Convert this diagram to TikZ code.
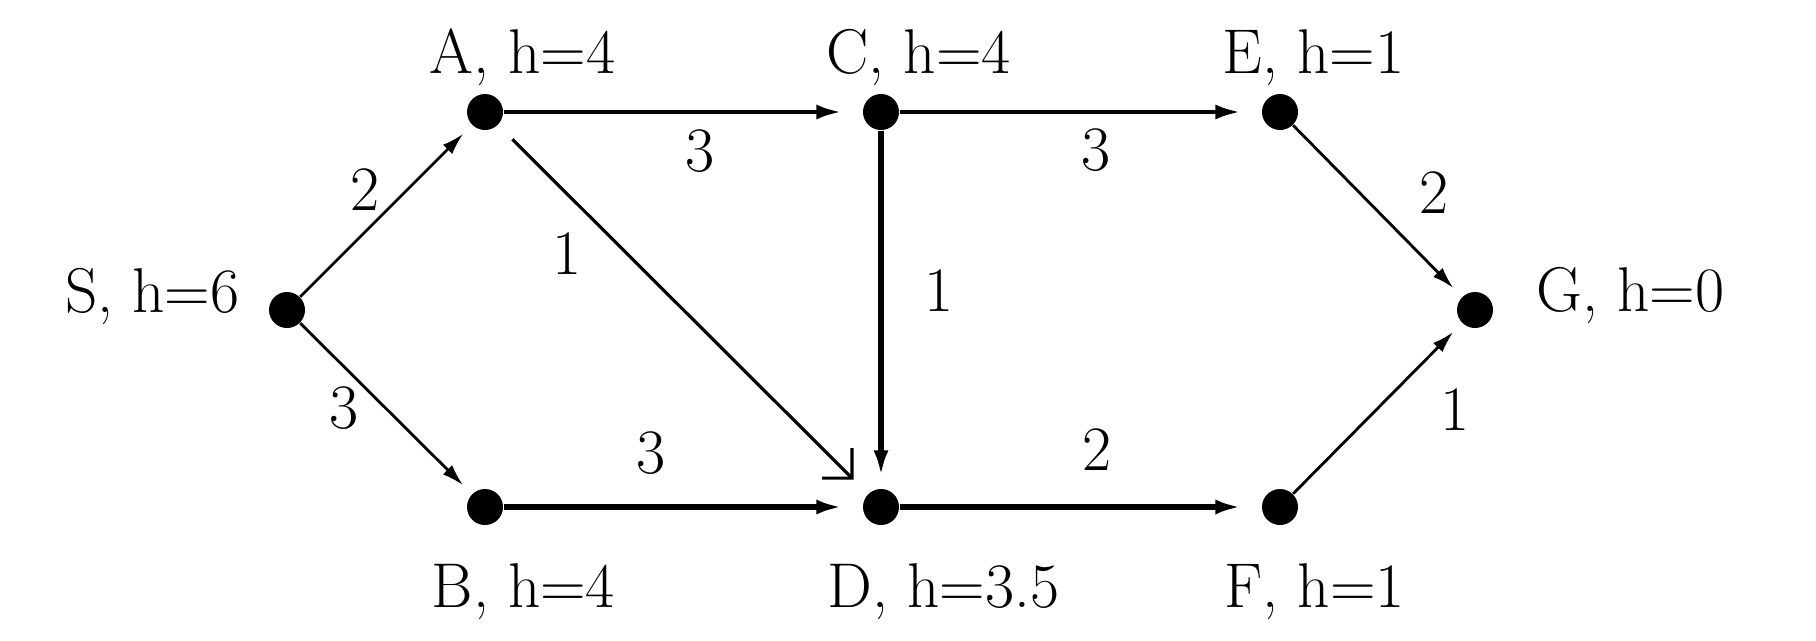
\documentclass[tikz,border=0pt]{standalone}
\usepackage{amsmath}
\usetikzlibrary{arrows.meta}

\begin{document}
\begin{tikzpicture}
    \tikzstyle{every node}=[font={\fontsize{18}{22}\selectfont}]
    \tikzstyle{dot}=[circle, fill=black, minimum size=0.36cm, inner sep=0pt]
    \tikzstyle{tag}=[inner sep=0pt]
    \tikzstyle{wt}=[inner sep=1pt]
    \tikzstyle{heavy}=[line width=1.9pt, -{Latex[length=2.6mm,width=1.5mm]}, shorten >=0.2cm]
    \tikzstyle{medium}=[line width=1.4pt, -{Latex[length=2.6mm,width=1.5mm]}, shorten >=0.2cm]
    \tikzstyle{slim}=[line width=0.8pt, -{Latex[length=2.2mm,width=1.3mm]}, shorten >=0.12cm]
    \tikzstyle{barb}=[line width=0.9pt, -{Straight Barb[angle=90:3mm]}, shorten <=0.2cm, shorten >=0.2cm]
    \useasboundingbox (0,0) rectangle (18.16,6.40);

    \node[dot] (S) at (2.87,3.30) {};
    \node[dot] (A) at (4.85,5.28) {};
    \node[dot] (B) at (4.85,1.33) {};
    \node[dot] (C) at (8.81,5.28) {};
    \node[dot] (D) at (8.81,1.33) {};
    \node[dot] (E) at (12.80,5.28) {};
    \node[dot] (F) at (12.80,1.33) {};
    \node[dot] (G) at (14.75,3.30) {};

    \node[tag, anchor=base east] (Stag) at ([shift={(-0.47,-0.02)}]S) {S, h=6};
    \node[tag, anchor=base west] (Atag) at ([shift={(-0.56,0.39)}]A) {A, h=4};
    \node[tag, anchor=base west] (Btag) at ([shift={(-0.54,-1.00)}]B) {B, h=4};
    \node[tag, anchor=base west] (Ctag) at ([shift={(-0.55,0.39)}]C) {C, h=4};
    \node[tag, anchor=base west] (Dtag) at ([shift={(-0.54,-1.00)}]D) {D, h=3.5};
    \node[tag, anchor=base west] (Etag) at ([shift={(-0.58,0.39)}]E) {E, h=1};
    \node[tag, anchor=base west] (Ftag) at ([shift={(-0.56,-1.00)}]F) {F, h=1};
    \node[tag, anchor=base west] (Gtag) at ([shift={(0.61,-0.01)}]G) {G, h=0};

    \draw[slim] (S) -- node[wt, pos=0.5, xshift=-0.21cm, yshift=0.21cm] {2} (A);
    \draw[slim] (S) -- node[wt, pos=0.5, xshift=-0.42cm] {3} (B);
    \draw[medium] (A) -- node[wt, pos=0.547, yshift=-0.39cm] {3} (C);
    \draw[barb] (A) -- node[wt, pos=0.3, xshift=-0.42cm, yshift=-0.18cm] {1} (D);
    \draw[heavy] (B) -- node[wt, pos=0.41, yshift=0.54cm] {3} (D);
    \draw[heavy, shorten >=0.12cm] (C) -- node[wt, pos=0.446, xshift=0.58cm] {1} (D);
    \draw[medium] (C) -- node[wt, pos=0.543, yshift=-0.38cm] {3} (E);
    \draw[heavy] (D) -- node[wt, pos=0.545, yshift=0.57cm] {2} (F);
    \draw[slim] (E) -- node[wt, pos=0.5, xshift=0.56cm, yshift=0.18cm] {2} (G);
    \draw[slim] (F) -- node[wt, pos=0.7, xshift=0.44cm, yshift=-0.35cm] {1} (G);
\end{tikzpicture}
\end{document}
